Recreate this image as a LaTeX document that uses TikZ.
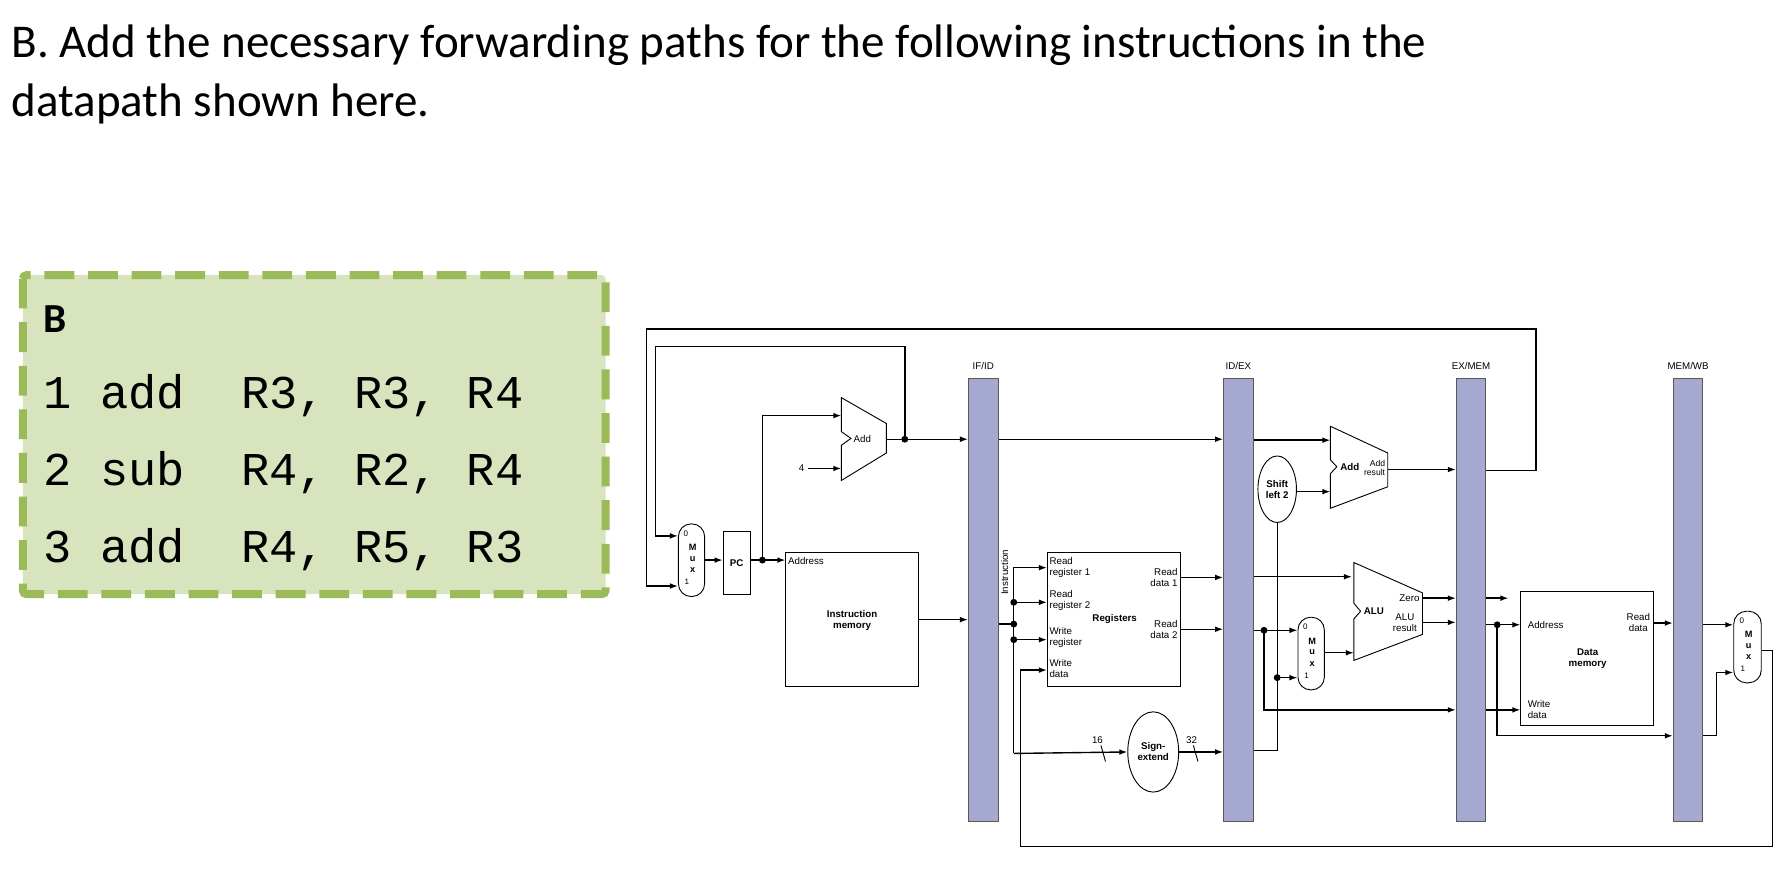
\documentclass[tikz,border=0pt]{standalone}
\usepackage{fontspec}
\setsansfont{Liberation Sans}
\newfontfamily\carlito{Carlito}
\newfontfamily\monof{Liberation Mono}
\usetikzlibrary{arrows.meta,shapes.geometric}
\definecolor{boxfill}{HTML}{D7E4BD}
\definecolor{boxline}{HTML}{9BBB59}
\definecolor{barfill}{HTML}{A5A9D0}
\begin{document}
\begin{tikzpicture}[x=1pt,y=-1pt,font=\sffamily\fontsize{8.5}{9.5}\selectfont,
  w/.style={line width=1.2pt},
  a/.style={w,-{Latex[length=7pt,width=5pt]}},
  thin/.style={line width=0.8pt},
  bar/.style={draw=gray!70!black,fill=barfill,line width=0.8pt,minimum width=25.8pt,minimum height=386pt,inner sep=0},
  blk/.style={draw,thin,inner sep=0},
  dot/.style={fill,circle,inner sep=0,minimum size=6pt},
  bl/.style={font=\sffamily\bfseries\fontsize{8.5}{9.5}\selectfont,align=center},
  lbl/.style={align=left,inner sep=1pt},
  muxb/.style={draw,thin,rounded corners=11pt,inner sep=0},
  muxlbl/.pic={\node[font=\sffamily\fontsize{7}{7}\selectfont] at (-5,-23) {0};
               \node[font=\sffamily\bfseries\fontsize{8}{8}\selectfont] at (1,-11) {M};
               \node[font=\sffamily\bfseries\fontsize{8}{8}\selectfont] at (1,-1) {u};
               \node[font=\sffamily\bfseries\fontsize{8}{8}\selectfont] at (1,9) {x};
               \node[font=\sffamily\fontsize{7}{7}\selectfont] at (-4,19) {1};}
]
\useasboundingbox (0,0) rectangle (1560,767);
% title
\node[anchor=base west,inner sep=0,font=\carlito\fontsize{41}{41}\selectfont] (t1) at (10,50) {B. Add the necessary forwarding paths for the following instructions in the};
\node[anchor=base west,inner sep=0,font=\carlito\fontsize{41}{41}\selectfont] (t2) at (10,102) {datapath shown here.};
% green box
\draw[fill=boxfill,draw=boxline,line width=7pt,dash pattern=on 26pt off 12pt,rounded corners=3pt] (20,240) rectangle (528,518);
\node[anchor=west,inner sep=0,font=\carlito\bfseries\fontsize{36}{36}\selectfont] (bb) at (38,278) {B};
\node[anchor=west,inner sep=0,font=\monof\fontsize{41}{41}\selectfont] (c1) at (38,345) {1 add~~R3, R3, R4};
\node[anchor=west,inner sep=0,font=\monof\fontsize{41}{41}\selectfont] (c2) at (38,412) {2 sub~~R4, R2, R4};
\node[anchor=west,inner sep=0,font=\monof\fontsize{41}{41}\selectfont] (c3) at (38,479) {3 add~~R4, R5, R3};

% pipeline registers
\node[bar] (ifid) at (857.4,523) {};
\node[bar] (idex) at (1079.9,523) {};
\node[bar] (exmem) at (1282.8,523) {};
\node[bar] (memwb) at (1472,523) {};
\node (lifid) at (857.4,319) {IF/ID};
\node (lidex) at (1079.9,319) {ID/EX};
\node (lexmem) at (1282.8,319) {EX/MEM};
\node (lmemwb) at (1472,319) {MEM/WB};

% blocks
\node[muxb,minimum width=22.8pt,minimum height=63.3pt] (pcmux) at (603,488.5) {};
\pic at (603,488.5) {muxlbl};
\node[muxb,minimum width=23pt,minimum height=63.3pt] (alumux) at (1143.3,569.9) {};
\pic at (1143.3,569.9) {muxlbl};
\node[muxb,minimum width=24pt,minimum height=62.4pt] (wbmux) at (1523.8,564.2) {};
\pic at (1523.8,564.2) {muxlbl};
\node[blk,minimum width=23.5pt,minimum height=54.3pt,bl] (pc) at (642.3,490.9) {PC};
\node[blk,minimum width=115.5pt,minimum height=117pt] (imem) at (743,540.3) {};
\node[bl] (imemt) at (743,541) {Instruction\\memory};
\node[lbl,anchor=west] (imaddr) at (686,489) {Address};
\node[blk,minimum width=115.7pt,minimum height=117pt] (regs) at (971.2,540) {};
\node[bl] (regst) at (972,540) {Registers};
\node[lbl,anchor=north west] (rr1) at (914,485) {Read\\register 1};
\node[lbl,anchor=north west] (rr2) at (914,514) {Read\\register 2};
\node[lbl,anchor=north west] (wr) at (914,546) {Write\\register};
\node[lbl,anchor=north west] (wd) at (914,574) {Write\\data};
\node[lbl,anchor=east,align=right] (rd1) at (1028,503.5) {Read\\data 1};
\node[lbl,anchor=east,align=right] (rd2) at (1028,548.7) {Read\\data 2};
\node[blk,minimum width=115.8pt,minimum height=117pt] (dmem) at (1384.1,574) {};
\node[bl] (dmemt) at (1384.4,574) {Data\\memory};
\node[lbl,anchor=west] (dmaddr) at (1331,545) {Address};
\node[lbl,anchor=east,align=center] (dmrd) at (1440,543) {Read\\data};
\node[lbl,anchor=west] (dmwd) at (1331,619) {Write\\data};
\node[draw,thin,ellipse,minimum width=44.4pt,minimum height=70pt,inner sep=0,bl] (se) at (1005.6,655.7) {Sign-\\extend};
\node[draw,thin,ellipse,minimum width=33.6pt,minimum height=58pt,inner sep=0,bl] (sl) at (1113.7,426.6) {Shift\\left 2};
\node[rotate=90] (instr) at (876,499) {Instruction};
% adders and ALU
\draw[thin] (733.6,346.7) -- (772.9,369.3) -- (772.9,395) -- (733.6,419) -- (733.6,388.3) -- (742,382.3) -- (733.6,376.3) -- cycle;
\node (addpc) at (752,383) {Add};
\draw[thin] (1160.1,371.7) -- (1210.1,395) -- (1210.1,424.5) -- (1160.1,443.2) -- (1160.1,413) -- (1165.7,407) -- (1160.1,401) -- cycle;
\node[bl,inner sep=0] (addbr) at (1177,407) {Add};
\node[align=right,anchor=east,inner sep=0,font=\sffamily\fontsize{7.5}{8.5}\selectfont] (addres) at (1208,408) {Add\\result};
\draw[thin] (1180.5,490.5) -- (1240.4,517) -- (1240.4,553.2) -- (1180.5,575.9) -- (1180.5,539.7) -- (1186.4,533) -- (1180.5,526) -- cycle;
\node[bl,inner sep=0] (alut) at (1198,533) {ALU};
\node[anchor=east,inner sep=0] (zero) at (1238,521.6) {Zero};
\node[align=center,inner sep=0] (alures) at (1225,543) {ALU\\result};
\node (four) at (699,408.5) {4};
\node (n16) at (957,645) {16};
\node (n32) at (1039,645) {32};

% coordinates
\coordinate (dA) at (789,383);
\coordinate (dP) at (664.8,488.4);
\coordinate (dI) at (884,544.2);
\coordinate (dR2) at (884,525.2);
\coordinate (dWR) at (884,557.8);
\coordinate (dB) at (1102.2,549.6);
\coordinate (dS) at (1113.7,590.9);
\coordinate (dM) at (1305.5,544.8);

% connectors
\draw[a] (exmem.east |- 0,410.5) -- (1339.4,410.5) -- (1339.4,287) -- (564,287) -- (564,511) -- (pcmux.west |- 0,511);
\draw[a] (dA) -- (789,302.4) -- (571.8,302.4) -- (571.8,467.3) -- (pcmux.west |- 0,467.3);
\draw[a] (772.9,383) -- (ifid.west |- dA);
\draw[a] (pcmux.east |- dP) -- (pc.west |- dP);
\draw[a] (pc.east |- dP) -- (imem.west |- dP);
\draw[a] (dP) -- (664.8,362.4) -- (733.6,362.4);
\draw[a] (four.east) -- (733.6,408.5);
\draw[a] (imem.east) -- (ifid.west |- imem.east);
\draw[a] (ifid.east |- dA) -- (idex.west |- dA);
\draw[w] (ifid.east |- dI) -- (dI);
\draw[a] (884,657) -- (884,495) -- (regs.west |- 0,495);
\draw[a] (dR2) -- (regs.west |- dR2);
\draw[a] (dWR) -- (regs.west |- dWR);
\draw[a] (884,657) -- (se.west);
\draw[a] (wbmux.east |- 0,567.4) -- (1545.6,567.4) -- (1545.6,738) -- (889.8,738) -- (889.8,584.3) -- (regs.west |- 0,584.3);
\draw[a] (regs.east |- 0,503.5) -- (idex.west |- 0,503.5);
\draw[a] (regs.east |- 0,548.7) -- (idex.west |- 0,548.7);
\draw[a] (se.east) -- (idex.west |- se.east);
\draw[thin] (960,650) -- (964,664);
\draw[thin] (1040.6,650) -- (1044.6,664);
\draw[a] (idex.east |- 0,383.8) -- (1160.1,383.8);
\draw[a] (sl.east |- 0,428.7) -- (1160.1,428.7);
\draw[w] (idex.east |- 0,654.2) -- (1113.7,654.2) -- (sl.south);
\draw[a] (dS) -- (alumux.west |- dS);
\draw[a] (1210.1,409.4) -- (exmem.west |- 0,409.4);
\draw[a] (idex.east |- 0,502.9) -- (1178.9,502.9);
\draw[a] (idex.east |- dB) -- (alumux.west |- dB);
\draw[a] (dB) -- (1102.2,619) -- (exmem.west |- 0,619);
\draw[a] (alumux.east |- 0,569.2) -- (1180.5,569.2);
\draw[a] (1240.4,521.6) -- (exmem.west |- 0,521.6);
\draw[a] (1240.4,542.7) -- (exmem.west |- 0,542.7);
\draw[a] (exmem.east |- 0,521.6) -- (1315.4,521.6);
\draw[a] (exmem.east |- dM) -- (dmem.west |- dM);
\draw[a] (dM) -- (1305.5,641.6) -- (memwb.west |- 0,641.6);
\draw[a] (exmem.east |- 0,619) -- (dmem.west |- 0,619);
\draw[a] (dmem.east |- 0,543.3) -- (memwb.west |- 0,543.3);
\draw[a] (memwb.east |- 0,544.8) -- (wbmux.west |- 0,544.8);
\draw[a] (memwb.east |- 0,641.6) -- (1497,641.6) -- (1497,586.4) -- (wbmux.west |- 0,586.4);
% dots
\foreach \p in {dA,dP,dI,dR2,dWR,dB,dS,dM} \node[dot] at (\p) {};
\end{tikzpicture}
\end{document}
